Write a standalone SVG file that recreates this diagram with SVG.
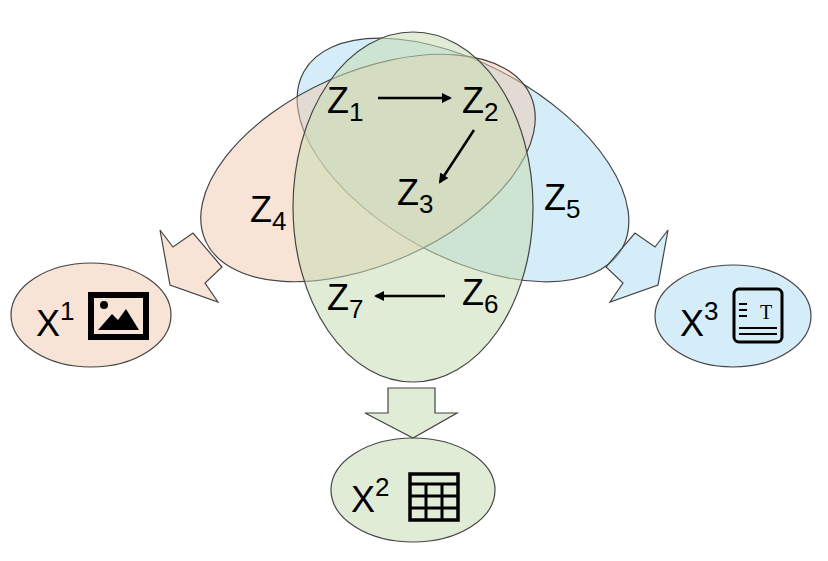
<svg xmlns="http://www.w3.org/2000/svg" width="828" height="561" viewBox="0 0 828 561">
<style>
.e{stroke:#444;stroke-width:1.2}
.o{fill:#f0c9ae;fill-opacity:.5}
.b{fill:#a9dcf3;fill-opacity:.5}
.g{fill:#c9ddb5;fill-opacity:.55}
.t{font-family:"Liberation Sans",Arial,sans-serif;font-size:36px;fill:#000}
.s{font-size:26px}
.a{stroke:#000;stroke-width:2.5;fill:none;marker-end:url(#ah)}
</style>
<defs><marker id="ah" markerWidth="10" markerHeight="10" refX="8" refY="5" orient="auto" markerUnits="userSpaceOnUse" viewBox="0 0 10 10"><path d="M0,0L10,5L0,10z" fill="#000"/></marker></defs>
<rect width="828" height="561" fill="#fff"/>
<g id="sets">
<ellipse id="blue" class="e b" cx="463" cy="160" rx="182" ry="96" transform="rotate(29 463 160)"/>
<ellipse id="orange" class="e o" cx="368" cy="168" rx="178" ry="96" transform="rotate(-24 368 168)"/>
<ellipse id="green" class="e g" cx="413" cy="207" rx="120" ry="175"/>
</g>
<g id="outputs-arrows">
<polygon class="e o" points="160,230 173,247 193,233 222,267 205,283 218,302 170,285"/>
<polygon class="e b" points="668,230 655,247 635,233 606,267 623,283 610,302 658,285"/>
<polygon class="e g" points="388,388 435,388 435,413 457,413 413,438 365,413 388,413"/>
</g>
<g id="x1"><ellipse class="e o" cx="91" cy="315" rx="80" ry="52"/>
<text class="t" x="36" y="336" font-size="38">X<tspan class="s" dy="-16">1</tspan></text>
<rect x="91" y="295" width="55" height="42" fill="none" stroke="#000" stroke-width="6"/>
<circle cx="104" cy="305" r="4"/><polygon points="98,330 112,314 118,320 126,309 139,330"/></g>
<g id="x3"><ellipse class="e b" cx="733" cy="316" rx="78" ry="51"/>
<text class="t" x="680" y="336" font-size="38">X<tspan class="s" dy="-16">3</tspan></text>
<rect x="734" y="289" width="48" height="53" rx="5" fill="none" stroke="#000" stroke-width="3"/>
<path d="M739,304h8M739,310h8M739,316h8M739,328h38M739,334h38" stroke="#000" stroke-width="2"/>
<text x="766" y="319" font-family="Liberation Serif,serif" font-size="20" text-anchor="middle">T</text></g>
<g id="x2"><ellipse class="e g" cx="413" cy="490" rx="82" ry="52"/>
<text class="t" x="351" y="512" font-size="38">X<tspan class="s" dy="-16">2</tspan></text>
<rect x="410" y="474" width="48" height="46" fill="none" stroke="#000" stroke-width="3.5"/>
<path d="M410,484h48M410,496h48M410,508h48M426,484v36M442,484v36" stroke="#000" stroke-width="3"/></g>
<g id="labels" class="t">
<text id="z1" x="327" y="113">Z<tspan class="s" dy="8">1</tspan></text>
<text id="z2" x="462" y="113">Z<tspan class="s" dy="8">2</tspan></text>
<text id="z3" x="397" y="205">Z<tspan class="s" dy="8">3</tspan></text>
<text id="z4" x="250" y="222">Z<tspan class="s" dy="8">4</tspan></text>
<text id="z5" x="544" y="210">Z<tspan class="s" dy="8">5</tspan></text>
<text id="z6" x="462" y="305">Z<tspan class="s" dy="8">6</tspan></text>
<text id="z7" x="327" y="310">Z<tspan class="s" dy="8">7</tspan></text>
</g>
<g id="connectors">
<line class="a" x1="378" y1="98" x2="450" y2="98"/>
<line class="a" x1="474" y1="130" x2="440" y2="182"/>
<line class="a" x1="445" y1="296" x2="376" y2="296"/>
</g>
</svg>
